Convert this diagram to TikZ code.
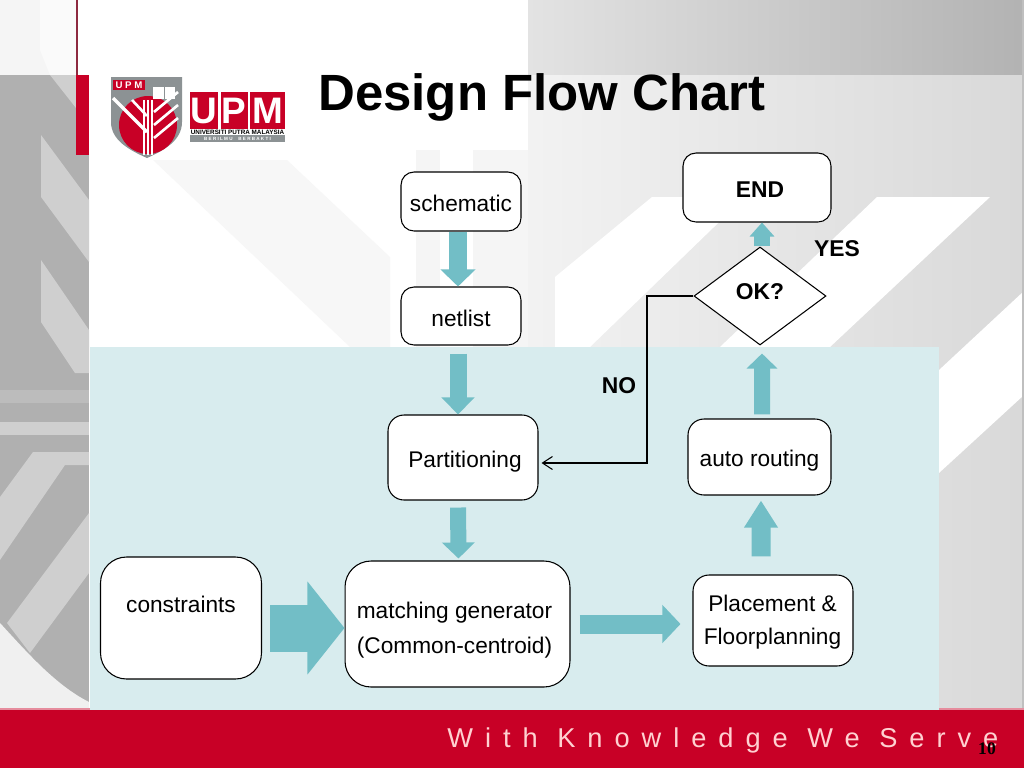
\documentclass[tikz,border=0pt]{standalone}
\usepackage{fontspec}
\setmainfont{Liberation Sans}
\newfontfamily\pagefont{Liberation Serif}
\usetikzlibrary{positioning,arrows.meta,shapes.geometric,calc}
\definecolor{upmred}{HTML}{C80026}
\definecolor{upmdark}{HTML}{8E2A40}
\definecolor{flowteal}{HTML}{72BEC6}
\definecolor{panelblue}{HTML}{D8ECEE}
\definecolor{stripdark}{HTML}{B0B0B0}
\definecolor{striplight}{HTML}{CFCFCF}
\definecolor{shieldgrey}{HTML}{8C9294}
\def\pu{0.02cm}
\tikzset{
 procbox/.style={draw=black, fill=white, line width=0.6pt, align=center, inner sep=0pt, font=\fontsize{12.9}{20}\selectfont, execute at begin node={\rule[-2pt]{0pt}{15.5pt}}},
 boxtext/.style={align=center, inner sep=0pt, font=\fontsize{12.9}{20}\selectfont},
 flag/.style={font=\fontsize{13}{16}\selectfont\bfseries, inner sep=0pt},
 blockarrow/.style n args={3}{draw=flowteal, line width=#1*\pu, -{Triangle[width=#2*\pu,length=#3*\pu]}},
 logoletter/.style={fill=upmred, text=white, font=\fontsize{21}{21}\selectfont\bfseries, inner sep=0pt, minimum height=0.74cm},
}
\begin{document}
\begin{tikzpicture}[x=\pu,y=-\pu]
 \useasboundingbox (0,0) rectangle (1024,768);
 % backdrop
 \fill[white] (0,0) rectangle (1024,768);
 \fill[black!4] (0,0) rectangle (76,75);
 \fill[black!2] (40,0) -- (76,0) -- (76,75) -- (50,75) -- (40,50) -- cycle;
 \fill[stripdark] (0,75) rectangle (89,710);
 \fill[striplight] (50,75) -- (76,75) -- (76,108) -- cycle;
 \fill[striplight] (41,135) -- (89,200) -- (89,262) -- (41,197) -- cycle;
 \fill[striplight] (41,260) -- (89,330) -- (89,373) -- (75,373) -- (41,322) -- cycle;
 \fill[stripdark!85!white] (0,390) rectangle (89,403);
 \fill[striplight] (0,422) rectangle (89,435);
 \fill[striplight] (0,497) -- (33,452) -- (89,452) -- (89,465) -- (65,465) -- (0,560) -- cycle;
 \fill[striplight] (7,623) -- (89,513) -- (89,573) -- (30,653) -- cycle;
 \fill[black!6] (0,623) .. controls (25,650) and (55,685) .. (89,702) -- (89,710) -- (0,710) -- cycle;
 \fill[black!3] (153,160) -- (287,160) -- (390,257) -- (390,347) -- (350,347) -- cycle;
 \fill[black!4] (416,150) rectangle (440,347);
 \fill[black!4] (473,150) rectangle (528,347);
 \shade[left color=black!11, right color=black!30] (528,0) rectangle (1024,75);
 \shade[left color=black!5, right color=black!15] (528,75) rectangle (1024,710);
 \fill[white] (555,277) -- (652,197) -- (745,197) -- (590,347) -- (555,347) -- cycle;
 \fill[white] (877,197) -- (990,197) -- (830,347) -- (720,347) -- cycle;
 \fill[white] (1024,291) -- (939,370) -- (939,473) -- (1024,395) -- cycle;
 \fill[black!25] (1022,0) rectangle (1024,710);
 \fill[upmdark] (76,0) rectangle (78,75);
 \fill[upmred] (76,75) rectangle (89,155);
 \fill[panelblue] (90,347) rectangle (939,710);
 \fill[upmred] (0,710) rectangle (1024,768);
 \fill[upmred!45!white] (0,708) rectangle (90,710);
 \fill[upmred!45!white] (939,708) rectangle (1024,710);
 % logo
 \fill[shieldgrey] (111,77) -- (182,77) -- (182,122) .. controls (182,140) and (165,150) .. (147,158) .. controls (129,150) and (111,140) .. (111,122) -- cycle;
 \fill[upmred] (148,125) circle (29);
 \draw[white, line width=2pt] (113,98) -- (147,132);
 \draw[white, line width=1.5pt] (132,100) -- (147,116);
 \foreach \k in {0,13,26} \draw[white, line width=1.5pt] (154,112+\k) -- (178,92+\k);
 \foreach \k in {-3,1,5} \draw[white, line width=0.8pt] (147+\k,100) -- (147+\k,155);
 \node[fill=upmred, text=white, font=\fontsize{5.5}{6}\selectfont\bfseries, minimum width=0.64cm, minimum height=0.2cm, inner sep=0pt] (badge) at (129,85) {U P M};
 \node[fill=white, minimum width=0.44cm, minimum height=0.24cm, inner sep=0pt] (book) at (164,93) {};
 \draw[shieldgrey, line width=0.4pt] (book.north) -- (book.south);
 \node[logoletter, minimum width=0.56cm] (logou) at (204,110.5) {U};
 \node[logoletter, minimum width=0.54cm, right=0.04cm of logou] (logop) {P};
 \node[logoletter, minimum width=0.7cm, right=0.04cm of logop] (logom) {M};
 \node[font=\fontsize{3.6}{4}\selectfont\bfseries, inner sep=0pt] (logoname) at (237.5,132) {UNIVERSITI PUTRA MALAYSIA};
 \node[fill=shieldgrey, text=white, font=\fontsize{2.6}{3}\selectfont\bfseries, minimum width=1.9cm, minimum height=0.13cm, inner sep=0pt] (logomotto) at (237.5,138.5) {B E R I L M U \quad B E R B A K T I};
 % title and footer
 \node[anchor=west, font=\fontsize{29}{34}\selectfont\bfseries, inner sep=0pt] (title) at (318,97) {Design Flow Chart};
 \node[anchor=west, text=red!18!white, font=\fontsize{15.5}{17}\selectfont\addfontfeature{LetterSpace=44}, inner sep=0pt] (motto) at (447,740) {With Knowledge We Serve};
 \node[font=\fontsize{10}{12}\selectfont\pagefont\bfseries, inner sep=0pt] (pagenum) at (987,749) {10};
 % boxes
 \node[procbox, rounded corners=13*\pu, minimum width=2.4cm, minimum height=1.18cm] (schematic) at (461,201.5) {schematic};
 \node[procbox, rounded corners=13*\pu, minimum width=2.4cm, minimum height=1.16cm] (netlist) at (461,316) {netlist};
 \node[procbox, rounded corners=16*\pu, minimum width=3cm, minimum height=1.7cm] (partition) at (463,457.5) {\hspace*{2.3pt}Partitioning};
 \node[procbox, rounded corners=26*\pu, minimum width=3.22cm, minimum height=2.44cm] (constraints) at (181,618) {constraints\\[-6pt]\mbox{}};
 \node[procbox, rounded corners=26*\pu, minimum width=4.5cm, minimum height=2.52cm] (matching) at (457.5,624) {};
 \node[boxtext] (matchingtext) at (454.5,630) {matching generator\\(Common-centroid)};
 \node[procbox, rounded corners=16*\pu, minimum width=3.2cm, minimum height=1.82cm] (placement) at (773,620.5) {};
 \node[boxtext] (placementtext) at (772.5,622) {Placement \&\\[-1pt]Floorplanning};
 \node[procbox, rounded corners=16*\pu, minimum width=2.86cm, minimum height=1.52cm] (routing) at (759.5,457) {auto routing};
 \node[procbox, diamond, aspect=1.35, minimum width=2.64cm, minimum height=1.96cm, font=\fontsize{13}{16}\selectfont\bfseries] (ok) at (760,296) {\raisebox{3.7pt}{OK?}};
 \node[procbox, rounded corners=13*\pu, minimum width=2.96cm, minimum height=1.38cm, font=\fontsize{13}{16}\selectfont\bfseries] (end) at (757,187.5) {\hspace*{3.4pt}END};
 \node[flag] (yes) at (837,249) {YES};
 \node[flag] (no) at (619,386) {NO};
 % connectors
 \draw[blockarrow={18}{34}{17}] ([xshift=-3*\pu]schematic.south) -- ([xshift=-3*\pu]netlist.north);
 \draw[blockarrow={17}{32}{17}, shorten <=8*\pu] ([xshift=-3*\pu]netlist.south) -- ([xshift=-5*\pu]partition.north);
 \draw[blockarrow={16}{32}{16}, shorten <=7*\pu, shorten >=2*\pu] ([xshift=-5*\pu]partition.south) -- ([xshift=1*\pu]matching.north);
 \draw[blockarrow={47}{91}{37}, shorten <=8*\pu] ([yshift=-10*\pu]constraints.east) -- ([yshift=-4*\pu]matching.west);
 \draw[blockarrow={19}{37}{18}, shorten <=9*\pu, shorten >=12*\pu] (matching.east) -- (matching.east -| placement.west);
 \draw[blockarrow={19}{32}{27}, shorten <=18*\pu, shorten >=5*\pu] ([xshift=-12*\pu]placement.north) -- ([xshift=1.5*\pu]routing.south);
 \draw[blockarrow={16}{30}{15}, shorten <=4*\pu, shorten >=8*\pu] ([xshift=2.5*\pu]routing.north) -- ([xshift=2*\pu]ok.south);
 \draw[blockarrow={16}{24}{14}] ([xshift=2*\pu]ok.north) -- ([xshift=5*\pu]end.south);
 \coordinate (nobend) at (647,463);
 \draw[-{Straight Barb[length=10*\pu,width=13*\pu]}, line width=0.6pt, shorten >=3*\pu] (ok.west) -| (nobend) -- (partition.east |- nobend);
\end{tikzpicture}
\end{document}
